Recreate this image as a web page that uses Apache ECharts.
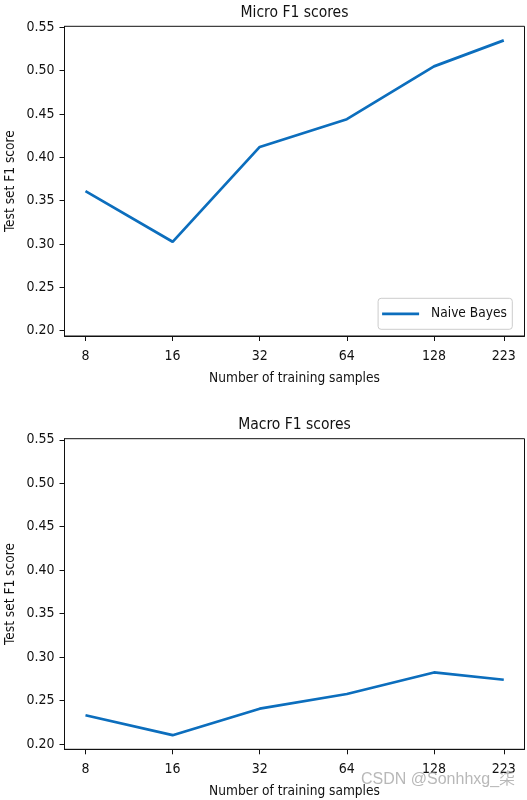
<!DOCTYPE html>
<html><head><meta charset="utf-8">
<script src="https://cdn.jsdelivr.net/npm/echarts@6/dist/echarts.min.js"></script>
<style>html,body{margin:0;padding:0;background:#fff}#c{width:527px;height:800px}</style>
</head><body><div id="c"></div>
<script>
// ---- data ----
const samples = [8, 16, 32, 64, 128, 223];
const microF1 = [0.361, 0.3025, 0.412, 0.444, 0.505, 0.535];
const macroF1 = [0.233, 0.210, 0.2405, 0.2574, 0.2822, 0.2738];
const xTickValues = [8, 16, 32, 64, 128, 223];
const yTickValues = [0.20, 0.25, 0.30, 0.35, 0.40, 0.45, 0.50, 0.55];
const seriesName = 'Naive Bayes';
const panelTitles = ['Micro F1 scores', 'Macro F1 scores'];
const xAxisName = 'Number of training samples';
const yAxisName = 'Test set F1 score';
const watermark = 'CSDN @Sonhhxg_柒';

// ---- styling ----
const FONT = '"DejaVu Sans Condensed", "DejaVu Sans", sans-serif';
const LINE = '#0C6EBD';
const INK = '#111';
const Y_MIN = 0.19375, Y_MAX = 0.55125;
const X_MIN = 6.77, X_MAX = 263;
const TICK_FS = 14, NAME_FS = 13.6, TITLE_FS = 15.5;

const grids = [
  { left: 64.5, right: 2.5, top: 26.3, height: 309.7, show: true, borderColor: INK, borderWidth: 1,
    containLabel: false, outerBoundsMode: 'none' },
  { left: 64.5, right: 2.5, top: 438.7, height: 310.6, show: true, borderColor: INK, borderWidth: 1,
    containLabel: false, outerBoundsMode: 'none' }
];

function xAxisFor(i) {
  return {
    type: 'log', logBase: 2, gridIndex: i, min: X_MIN, max: X_MAX,
    name: xAxisName, nameLocation: 'middle', nameGap: 35, nameMoveOverlap: false,
    nameTextStyle: { fontFamily: FONT, fontSize: NAME_FS, color: INK },
    axisLine: { show: true, lineStyle: { color: INK, width: 1 } },
    axisTick: { show: true, length: 5, lineStyle: { color: INK }, customValues: xTickValues },
    axisLabel: { fontFamily: FONT, fontSize: TICK_FS, color: INK, margin: 13, customValues: xTickValues,
                 formatter: v => String(Math.round(v)) },
    splitLine: { show: false }, minorTick: { show: false }
  };
}
function yAxisFor(i) {
  return {
    type: 'value', gridIndex: i, min: Y_MIN, max: Y_MAX,
    name: yAxisName, nameLocation: 'middle', nameGap: 47, nameRotate: 90, nameMoveOverlap: false,
    nameTextStyle: { fontFamily: FONT, fontSize: NAME_FS, color: INK },
    axisLine: { show: true, lineStyle: { color: INK, width: 1 } },
    axisTick: { show: true, length: 5, lineStyle: { color: INK }, customValues: yTickValues },
    axisLabel: { fontFamily: FONT, fontSize: TICK_FS, color: INK, margin: 10, customValues: yTickValues,
                 formatter: v => v.toFixed(2) },
    splitLine: { show: false }
  };
}

const chart = echarts.init(document.getElementById('c'), null, { renderer: 'canvas' });
chart.setOption({
  backgroundColor: '#fff',
  animation: false,
  title: [
    { text: panelTitles[0], left: 294.5, top: 5, textAlign: 'center', padding: 0,
      textStyle: { fontFamily: FONT, fontSize: TITLE_FS, fontWeight: 'normal', color: INK } },
    { text: panelTitles[1], left: 294.5, top: 417, textAlign: 'center', padding: 0,
      textStyle: { fontFamily: FONT, fontSize: TITLE_FS, fontWeight: 'normal', color: INK } }
  ],
  legend: {
    data: [seriesName], right: 14.7, top: 298.3, orient: 'vertical',
    icon: 'rect', padding: [8.5, 5.5, 8.5, 4], itemWidth: 37, itemHeight: 2.7,
    backgroundColor: 'rgba(255,255,255,0.85)', borderColor: '#ccc', borderWidth: 1, borderRadius: 3,
    textStyle: { fontFamily: FONT, fontSize: NAME_FS, color: INK, padding: [0, 0, 0, 7] }
  },
  grid: grids,
  xAxis: [xAxisFor(0), xAxisFor(1)],
  yAxis: [yAxisFor(0), yAxisFor(1)],
  series: [
    { name: seriesName, type: 'line', xAxisIndex: 0, yAxisIndex: 0, symbol: 'none',
      lineStyle: { color: LINE, width: 2.7 }, itemStyle: { color: LINE },
      data: samples.map((s, k) => [s, microF1[k]]) },
    { name: seriesName + ' (macro)', type: 'line', xAxisIndex: 1, yAxisIndex: 1, symbol: 'none',
      lineStyle: { color: LINE, width: 2.7 }, itemStyle: { color: LINE },
      data: samples.map((s, k) => [s, macroF1[k]]) }
  ],
  graphic: [
    { type: 'text', left: 361, top: 772, z: 100,
      style: { text: watermark, fontFamily: '"Liberation Sans", "Noto Sans CJK SC", sans-serif',
               fontSize: 16, fill: 'rgba(160,160,160,0.75)' } }
  ]
});
</script></body></html>
